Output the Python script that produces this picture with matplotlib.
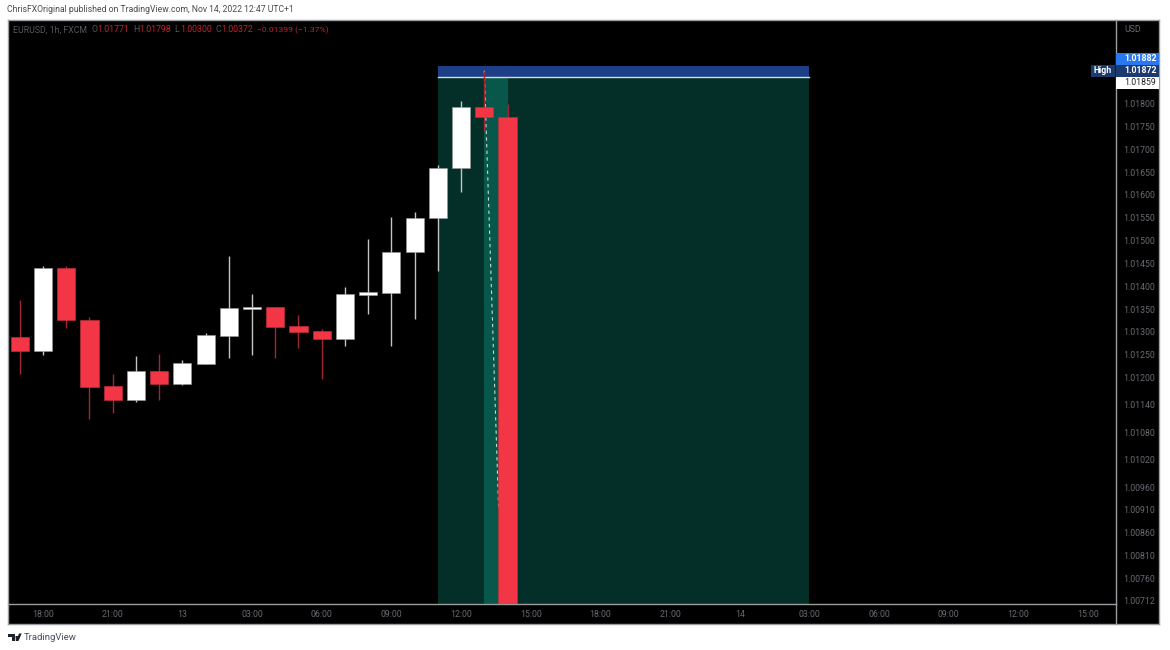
import matplotlib
matplotlib.use("Agg")
import matplotlib.pyplot as plt
from matplotlib.patches import Polygon, Rectangle

plt.rcParams['font.family'] = ['Roboto', 'DejaVu Sans']

# hours from 12 Nov 18:00
hours = list(range(-1, 21))
opens = [1.01289, 1.01258, 1.01439, 1.01327, 1.01181, 1.01151, 1.01215, 1.01186, 1.01229, 1.01292, 1.01350,
         1.01354, 1.01312, 1.01302, 1.01285, 1.01380, 1.01386, 1.01474, 1.01549, 1.01659, 1.01793, 1.01771]
highs = [1.01370, 1.01444, 1.01444, 1.01332, 1.01208, 1.01247, 1.01251, 1.01238, 1.01297, 1.01466, 1.01382,
         1.01354, 1.01337, 1.01306, 1.01398, 1.01503, 1.01551, 1.01563, 1.01665, 1.01805, 1.01872, 1.01798]
lows = [1.01208, 1.01249, 1.01308, 1.01110, 1.01123, 1.01147, 1.01151, 1.01184, 1.01229, 1.01242, 1.01249,
        1.01243, 1.01265, 1.01196, 1.01270, 1.01340, 1.01270, 1.01328, 1.01433, 1.01606, 1.01740, 1.00300]
closes = [1.01258, 1.01439, 1.01327, 1.01180, 1.01151, 1.01215, 1.01186, 1.01231, 1.01293, 1.01352, 1.01355,
          1.01311, 1.01300, 1.01285, 1.01382, 1.01387, 1.01474, 1.01549, 1.01659, 1.01792, 1.01770, 1.00372]

price_ticks = [1.01800, 1.01750, 1.01700, 1.01650, 1.01600, 1.01550, 1.01500, 1.01450, 1.01400, 1.01350, 1.01300,
               1.01250, 1.01200, 1.01140, 1.01080, 1.01020, 1.00960, 1.00910, 1.00860, 1.00810, 1.00760, 1.00712]
time_ticks = [0, 3, 6, 9, 12, 15, 18, 21, 24, 27, 30, 33, 36, 39, 42, 45]
time_labels = ["18:00", "21:00", "13", "03:00", "06:00", "09:00", "12:00", "15:00", "18:00", "21:00", "14",
               "03:00", "06:00", "09:00", "12:00", "15:00"]

zone_start, zone_end = 17, 33
zone_bright_start, zone_bright_end = 19, 20
zone_top = 1.01859
level_high = 1.01882
level_mid = 1.01872
path_x = [19, 19.62]
path_y = [1.01872, 1.00910]

W, H = 1170, 650
RED = "#f23645"
GREY = "#686a71"
NAVY = "#1c3a70"
FRAME = "#9a9ca0"
FS = 6.3


def box(x0, y0, x1, y1):
    # pixel box, y from the top
    return [x0 / W, 1 - y1 / H, (x1 - x0) / W, (y1 - y0) / H]


def px(x, y, s, color=GREY, size=FS, **kw):
    fig.text(x / W, 1 - y / H, s, color=color, fontsize=size, va="center", **kw)


fig = plt.figure(figsize=(11.7, 6.5), dpi=100, facecolor="white")

# frame behind everything
back = fig.add_axes(box(7.5, 19.5, 1159, 624), facecolor="black")
back.set_xticks([])
back.set_yticks([])
for s in back.spines.values():
    s.set_color(FRAME)
    s.set_linewidth(1)

ax = fig.add_axes(box(8, 20, 1116, 604), facecolor="none")
ax.set_xlim(-1.507, 46.2)
ax.set_ylim(1.00704, 1.01983)

ax.add_patch(Rectangle((zone_start, 1.0), zone_end - zone_start, zone_top - 1.0, color="#032f28", lw=0, zorder=1))
ax.add_patch(Rectangle((zone_bright_start, 1.0), zone_bright_end - zone_bright_start, zone_top - 1.0,
                       color="#07574a", lw=0, zorder=1.1))
ax.add_patch(Rectangle((zone_start, zone_top), zone_end - zone_start, level_high - zone_top, color="#1c3f87",
                       lw=0, zorder=1.2))
ax.plot([zone_start, zone_end], [zone_top, zone_top], color="#d7dce6", lw=1, zorder=1.3)

ax.plot(path_x, path_y, color="#c9d8d4", lw=0.8, ls=(0, (3, 3)), zorder=1.5)

for h, o, hi, lo, c in zip(hours, opens, highs, lows, closes):
    up = c >= o
    ax.vlines(h, lo, hi, color="#c4c4c4" if up else "#a32633", lw=1, zorder=2)
    ax.bar(h, abs(c - o), bottom=min(o, c), width=0.78, color="white" if up else RED,
           edgecolor="#9a9a9a" if up else "#c92f3c", linewidth=0.4, zorder=3)

ax.set_xticks(time_ticks)
ax.set_xticklabels(time_labels, color=GREY, fontsize=FS)
ax.yaxis.tick_right()
ax.set_yticks(price_ticks)
ax.set_yticklabels(["%.5f" % p for p in price_ticks], color=GREY, fontsize=FS)
ax.tick_params(axis="both", length=0)
ax.tick_params(axis="x", pad=4.5)
ax.tick_params(axis="y", pad=5.5)
for side in ["top", "left"]:
    ax.spines[side].set_visible(False)
for side in ["right", "bottom"]:
    ax.spines[side].set_color(FRAME)
    ax.spines[side].set_linewidth(1)

# bottom panel divider on the price scale
fig.add_artist(plt.Line2D([1116 / W, 1116 / W], [1 - 604 / H, 1 - 624 / H], color=FRAME, lw=1))

# price labels
fig.patches.append(Rectangle((1116 / W, 1 - 64.5 / H), 43 / W, 12 / H, transform=fig.transFigure, color="#2a78f0", lw=0))
fig.patches.append(Rectangle((1116 / W, 1 - 76.5 / H), 43 / W, 12 / H, transform=fig.transFigure, color=NAVY, lw=0))
fig.patches.append(Rectangle((1116 / W, 1 - 88.5 / H), 43 / W, 12 / H, transform=fig.transFigure, color="white", lw=0))
fig.patches.append(Rectangle((1091 / W, 1 - 76.5 / H), 24 / W, 12 / H, transform=fig.transFigure, color=NAVY, lw=0))
px(1124, 58.5, "1.01882", color="white", fontweight="bold")
px(1124, 70.5, "1.01872", color="white", fontweight="bold")
px(1124, 82.5, "1.01859", color="#222222")
px(1094, 70.5, "High", color="white", fontweight="bold")
px(1124, 30, "USD")

# header
px(7, 9.5, "ChrisFXOriginal published on TradingView.com, Nov 14, 2022 12:47 UTC+1", color="#4a4a4a", size=6.25)
px(13, 30, "EURUSD, 1h, FXCM", color="#565860")
DARK_RED = "#c4222e"
for x, label, value in [(91, "O", "1.01771"), (133, "H", "1.01798"), (174, "L", "1.00300"), (215, "C", "1.00372")]:
    px(x, 30, label, color="#565860")
    px(x + 6, 30, value, color=DARK_RED)
px(257, 30, "\u22120.01399 (\u22121.37%)", color=DARK_RED, size=6.1)

# logo
logo = [[(8, 633.5), (15, 633.5), (15, 641), (11.5, 641), (11.5, 636.5), (8, 636.5)],
        [(15.5, 636), (18, 636), (19, 633.5), (21.7, 633.5), (18.5, 641), (15.8, 641)]]
for pts in logo:
    fig.patches.append(Polygon([(x / W, 1 - y / H) for x, y in pts], transform=fig.transFigure, color="#1e222d", lw=0))
px(24, 637, "TradingView", color="#4a4f5c", size=6.8)

fig.savefig("out.png", dpi=100, facecolor="white")
